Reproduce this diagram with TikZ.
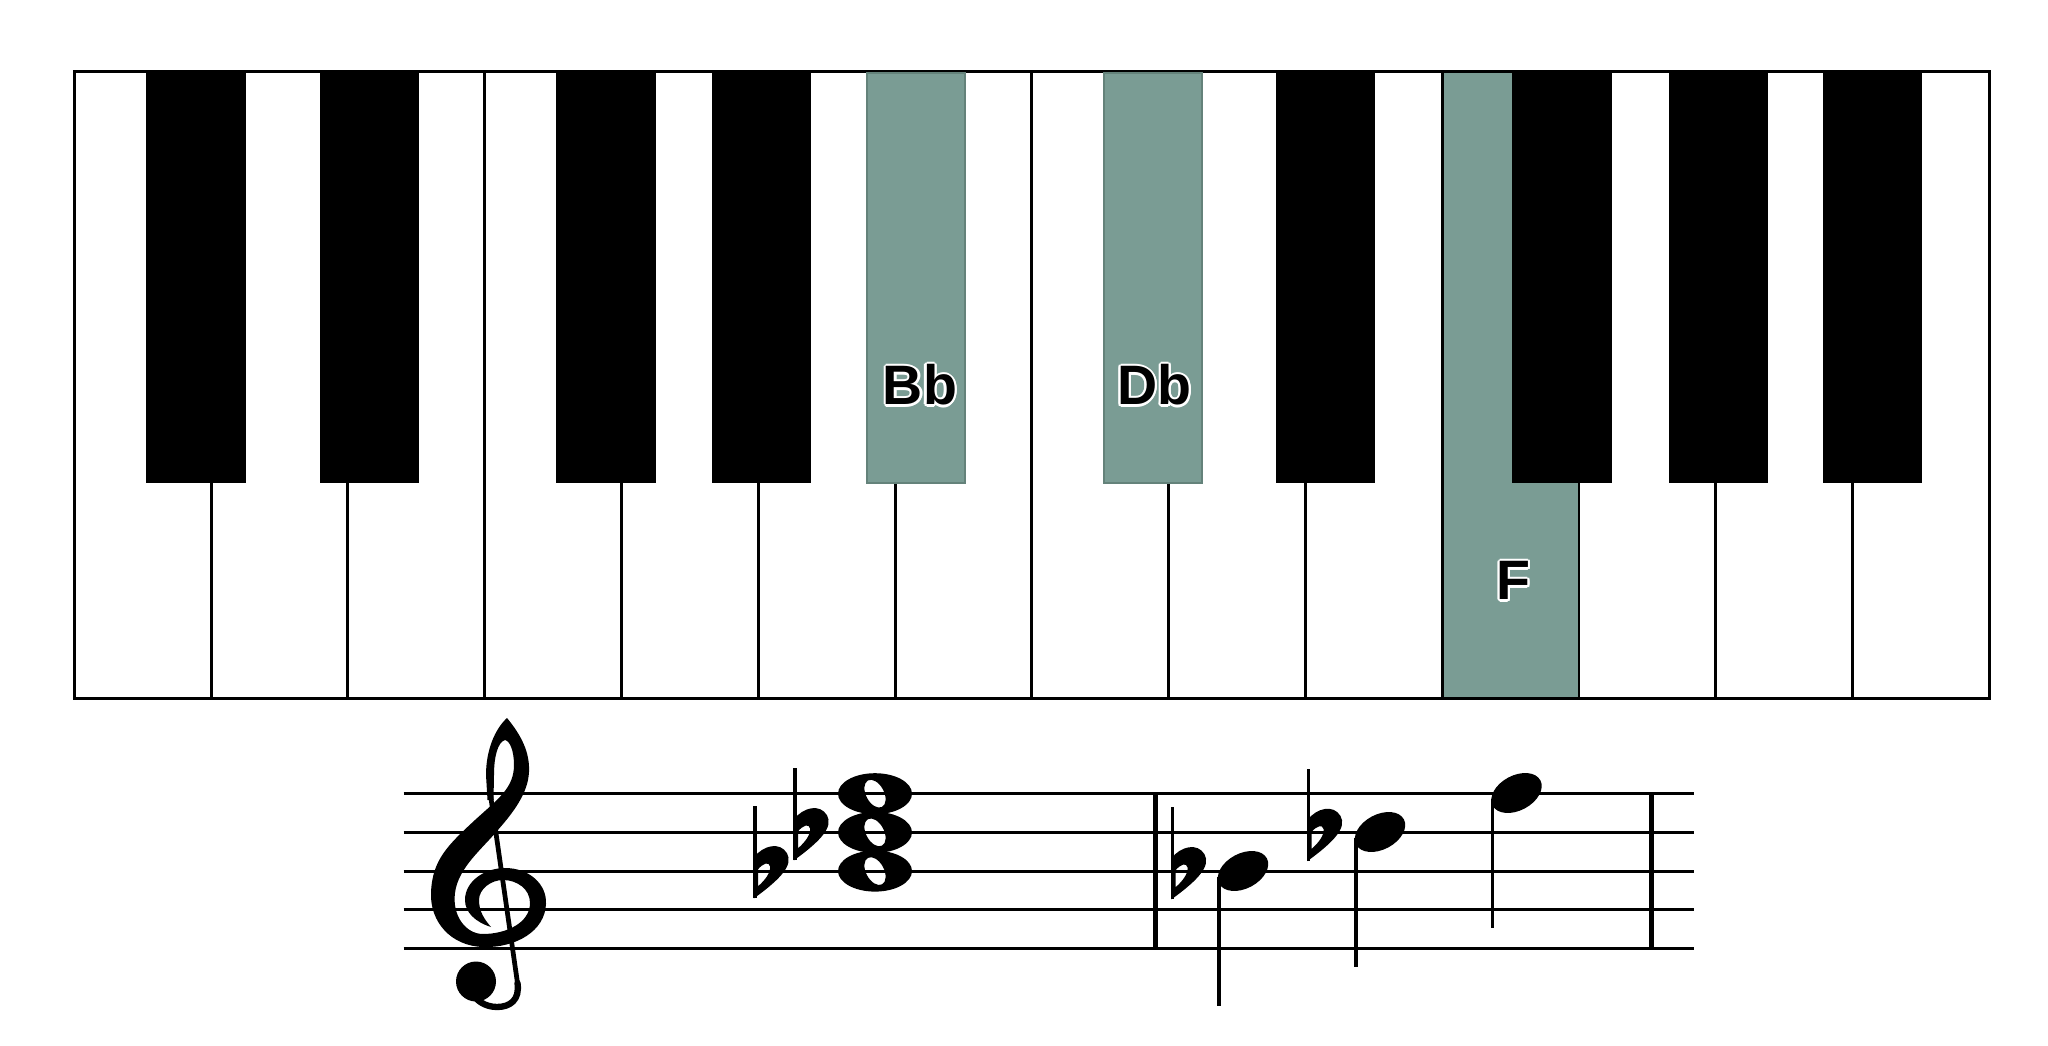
\documentclass[tikz,border=0pt]{standalone}
\usepackage{fontspec}
\setmainfont{Liberation Sans}
\usepackage{contour}
\contourlength{0.6pt}
\definecolor{keyteal}{RGB}{122,156,148}
\definecolor{keytealline}{RGB}{100,130,122}

\begin{document}
\begin{tikzpicture}[x=0.01cm,y=-0.01cm,
  keyline/.style={line width=0.85pt},
  playkey/.style={fill=keyteal},
  keylabel/.style={font=\fontsize{15.8}{19}\selectfont\bfseries,inner sep=0pt,anchor=base},
  staffline/.style={line width=0.8pt},
  barline/.style={line width=1.4pt},
  pics/flatsign/.style={code={
    \fill[even odd rule] (-1,-40) .. controls (8,-52) and (25,-56) .. (32,-44) .. controls (38,-33) and (28,-20) .. (-1,1) -- cycle
      (3,-28) .. controls (8,-34) and (14,-36) .. (15,-31) .. controls (16,-25) and (10,-17) .. (3,-11) -- cycle;
    \draw[line width=1.05pt] (0,1) -- (0,-91);}},
  pics/wholenote/.style={code={
    \fill[even odd rule] (0,0) ellipse [x radius=37, y radius=20.5]
      (0,0) ellipse [x radius=15, y radius=9, rotate=-62];}},
  pics/quarternote/.style={code={
    \fill (0,0) ellipse [x radius=27, y radius=17.5, rotate=28];
    \draw[line width=1.1pt] (-24,6) -- (-24,135);}}
  ]
\useasboundingbox (0,0) rectangle (2048,1046);
\fill[white] (0,0) rectangle (2048,1046);

\fill[playkey] (1442.2,71.8) rectangle (1579,698.7);
\foreach \k in {1,...,13}
  \draw[keyline] ({74.4+136.78*\k},71.8) -- ({74.4+136.78*\k},698.7);
\draw[keyline] (74.4,71.8) rectangle (1989.3,698.7);
\foreach \bx in {146.3,320,556.4,711.8,1276,1512.4,1669,1823.2}
  \fill (\bx,71.8) rectangle ++(99.2,411.4);
\filldraw[playkey,draw=keytealline,line width=0.6pt] (867.2,73) rectangle ++(98,410.2);
\filldraw[playkey,draw=keytealline,line width=0.6pt] (1103.6,73) rectangle ++(98,410.2);

\node[keylabel] (bb) at (920,405) {\contour{white}{Bb}};
\node[keylabel] (db) at (1154.5,405) {\contour{white}{Db}};
\node[keylabel] (f) at (1513.5,600) {\contour{white}{F}};

\foreach \sy in {793.7,832.4,871.1,909.8,948.5}
  \draw[staffline] (403.6,\sy) -- (1694,\sy);
\draw[barline] (1155.9,793.7) -- (1155.9,948.5);
\draw[barline] (1651.3,793.7) -- (1651.3,948.5);

\fill (507,718)
  .. controls (521,735) and (530,752) .. (529,772)
  .. controls (528,794) and (512,814) .. (497,831)
  .. controls (482,849) and (458,868) .. (455,893)
  .. controls (452,916) and (466,934) .. (483,934)
  .. controls (506,934) and (530,923) .. (530,903)
  .. controls (530,889) and (517,880) .. (503,880)
  .. controls (491,880) and (479,889) .. (479,900)
  .. controls (479,912) and (485,920) .. (491,927)
  .. controls (475,922) and (465,912) .. (465,900)
  .. controls (465,881) and (485,868) .. (505,868)
  .. controls (529,868) and (547,884) .. (546,904)
  .. controls (545,931) and (516,948) .. (483,947)
  .. controls (451,946) and (430,922) .. (431,893)
  .. controls (432,860) and (448,845) .. (475,820)
  .. controls (498,799) and (514,788) .. (514,765)
  .. controls (514,751) and (510,741) .. (505,740)
  .. controls (498,742) and (494,756) .. (494,775)
  -- (493.5,800) -- (487.5,800) -- (486,775)
  .. controls (486,750) and (495,729) .. (507,718) -- cycle;
\draw[line width=1.35pt] (490.5,795) -- (517.5,983);
\draw[line width=1.8pt,line cap=round] (517.5,983) .. controls (520,1000) and (510,1007) .. (497,1007) .. controls (485,1007) and (475,1000) .. (472,992);
\fill (476,981.5) circle [radius=20];

\pic at (755,897.3) {flatsign};
\pic at (795,859.3) {flatsign};
\foreach \ny in {793.7,832.4,871.1}
  \pic at (875,\ny) {wholenote};

\pic at (1172.5,898.3) {flatsign};
\pic at (1243,871) {quarternote};
\pic at (1308.5,860) {flatsign};
\pic at (1380,832) {quarternote};
\pic at (1516.5,793) {quarternote};
\end{tikzpicture}
\end{document}
